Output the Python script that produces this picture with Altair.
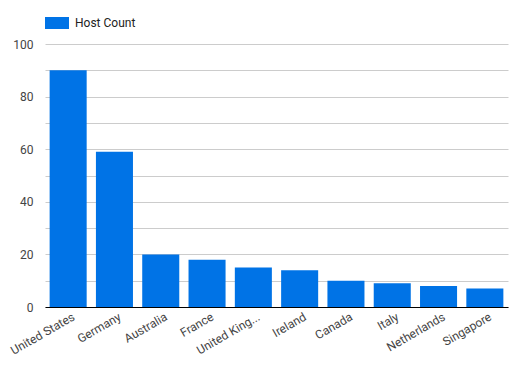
import altair as alt
import pandas as pd

countries = ["United States", "Germany", "Australia", "France", "United Kingdom",
             "Ireland", "Canada", "Italy", "Netherlands", "Singapore"]
host_counts = [90, 59, 20, 18, 15, 14, 10, 9, 8, 7]
series_name = "Host Count"
y_ticks = [0, 10, 20, 30, 40, 50, 60, 70, 80, 90, 100]

df = pd.DataFrame({"country": countries, "count": host_counts, "series": series_name})

FONT = "Roboto"

chart = alt.Chart(df).mark_bar().encode(
    x=alt.X("country:N", sort=countries, title=None,
            scale=alt.Scale(paddingInner=0.2, paddingOuter=0.1),
            axis=alt.Axis(labelAngle=330, labelAlign="right", labelBaseline="top",
                          labelFontSize=12, labelColor="#444444", labelFont=FONT,
                          labelPadding=4, labelOffset=3, ticks=False, domainColor="#000000",
                          domainWidth=1.2, labelLimit=200,
                          labelExpr="datum.label == 'United Kingdom' ? 'United King...' : datum.label")),
    y=alt.Y("count:Q", title=None,
            scale=alt.Scale(domain=[0, 100], nice=False),
            axis=alt.Axis(values=y_ticks, labelExpr="datum.value % 20 == 0 ? datum.label : ''",
                          domain=False, ticks=False, gridColor="#cccccc", gridWidth=1,
                          labelFontSize=12, labelColor="#444444", labelFont=FONT,
                          labelPadding=12)),
    color=alt.Color("series:N", scale=alt.Scale(range=["#0073e6"]), title=None,
                    legend=alt.Legend(orient="none", legendX=0, legendY=-33,
                                      symbolType="M-1,-0.5H1V0.5H-1Z", symbolSize=576,
                                      symbolStrokeWidth=0, symbolOpacity=1,
                                      labelFontSize=12, labelColor="#222222", labelFont=FONT,
                                      labelOffset=6, padding=0)),
).properties(
    width=463, height=263,
    autosize=alt.AutoSizeParams(type="none"),
    padding={"left": 37, "top": 36, "right": 1, "bottom": 66},
).configure_view(stroke=None).configure_legend(symbolFillColor="#0073e6")

chart.save("out.html", embed_options={"renderer": "svg", "actions": False})
